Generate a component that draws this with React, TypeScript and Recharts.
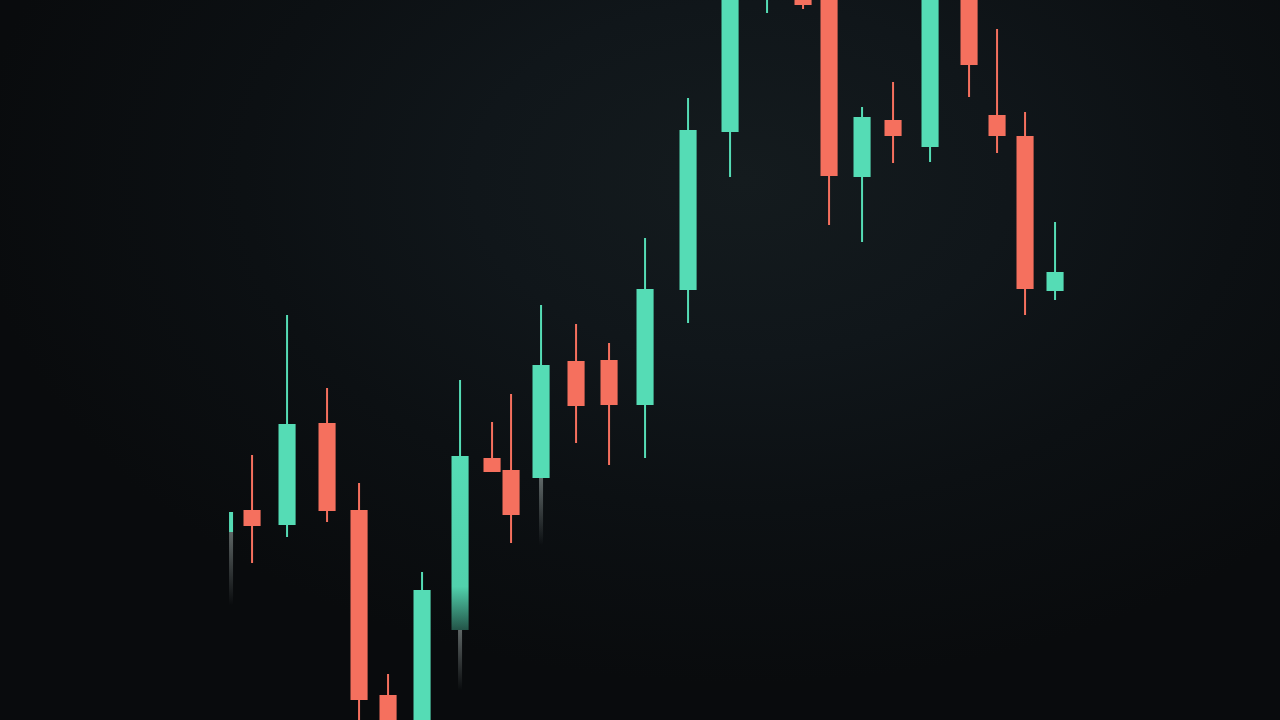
import React from "react";
import { ComposedChart, Bar, XAxis, YAxis } from "recharts";

// time position of each candle (read along the horizontal axis)
const times = [231, 252, 287, 327, 359, 388, 422, 460, 492, 511, 541, 576, 609, 645, 688, 730, 767, 803, 829, 862, 893, 930, 969, 997, 1025, 1055];
const opens = [188, 210, 195, 297, 210, 25, -20, 90, 262, 250, 242, 359, 360, 315, 430, 588, 740, 740, 740, 543, 600, 573, 740, 605, 584, 429];
const closes = [188, 194, 296, 209, 20, -20, 130, 264, 248, 205, 355, 314, 315, 431, 590, 740, 760, 715, 544, 603, 584, 740, 655, 584, 431, 448];
const highs = [208, 265, 405, 332, 237, 46, 148, 340, 298, 326, 415, 396, 377, 482, 622, 760, 770, 760, 760, 613, 638, 760, 760, 691, 608, 498];
const lows = [115, 157, 183, 198, -20, -30, -30, 30, 248, 177, 175, 277, 255, 262, 397, 543, 707, 711, 495, 478, 557, 558, 623, 567, 405, 420];
// 0 = sharp, 1 = blurred lower wick, 2 = blurred body and lower wick
const blurred = [1, 0, 0, 0, 0, 0, 0, 2, 0, 0, 1, 0, 0, 0, 0, 0, 0, 0, 0, 0, 0, 0, 0, 0, 0, 0];

const data = times.map((t, i) => ({
  t,
  open: opens[i],
  close: closes[i],
  high: highs[i],
  low: lows[i],
  blur: blurred[i],
}));

const TEAL = "#55dcb5";
const RED = "#f5705e";

const Candle = (props: any) => {
  const { x, y, width, height, payload } = props;
  if (x == null || y == null) return null;
  const top = Math.min(y, y + height);
  const bottom = Math.max(y, y + height);
  const range = payload.high - payload.low;
  const k = range > 0 ? (bottom - top) / range : 0;
  const yOf = (v: number) => top + (payload.high - v) * k;
  const up = payload.close >= payload.open;
  const color = up ? TEAL : RED;
  const bTop = yOf(Math.max(payload.open, payload.close));
  const bBot = yOf(Math.min(payload.open, payload.close));
  const cx = x + width / 2;
  const fill = payload.blur === 2 ? (up ? "url(#fadeTeal)" : "url(#fadeRed)") : color;
  const hasBody = payload.open !== payload.close;
  return (
    <g>
      <rect x={cx - (hasBody ? 1 : 2)} y={top} width={hasBody ? 2 : 4} height={Math.max(0, bTop - top)} fill={color} />
      <rect
        x={cx - (payload.blur ? 2 : 1)}
        y={bBot}
        width={payload.blur ? 4 : 2}
        height={Math.max(0, bottom - bBot)}
        fill={payload.blur ? "url(#fadeWick)" : color}
      />
      {hasBody && (
        <rect x={x} y={bTop} width={width} height={Math.max(2, bBot - bTop)} fill={fill} />
      )}
    </g>
  );
};

export default function App() {
  return (
    <div
      style={{
        position: "fixed",
        left: 0,
        top: 0,
        width: 1280,
        height: 720,
        background:
          "radial-gradient(ellipse 60% 70% at 58% 25%, #141b1e 0%, #10161a 35%, #0c1013 65%, #090b0d 100%)",
        overflow: "hidden",
      }}
    >
      <ComposedChart width={1280} height={720} data={data} margin={{ top: 0, right: 0, bottom: 0, left: 0 }}>
        <defs>
          <linearGradient id="fadeTeal" x1="0" y1="0" x2="0" y2="1">
            <stop offset="0%" stopColor={TEAL} stopOpacity={1} />
            <stop offset="75%" stopColor={TEAL} stopOpacity={0.95} />
            <stop offset="100%" stopColor={TEAL} stopOpacity={0.35} />
          </linearGradient>
          <linearGradient id="fadeRed" x1="0" y1="0" x2="0" y2="1">
            <stop offset="0%" stopColor={RED} stopOpacity={1} />
            <stop offset="75%" stopColor={RED} stopOpacity={0.95} />
            <stop offset="100%" stopColor={RED} stopOpacity={0.35} />
          </linearGradient>
          <linearGradient id="fadeWick" x1="0" y1="0" x2="0" y2="1">
            <stop offset="0%" stopColor="#a4b0ae" stopOpacity={0.55} />
            <stop offset="100%" stopColor="#a4b0ae" stopOpacity={0} />
          </linearGradient>
        </defs>
        <XAxis dataKey="t" type="number" domain={[0, 1280]} hide allowDataOverflow />
        <YAxis type="number" domain={[0, 720]} hide allowDataOverflow />
        <Bar
          dataKey={(d: any) => [d.low, d.high]}
          barSize={19}
          shape={<Candle />}
          isAnimationActive={false}
        />
      </ComposedChart>
    </div>
  );
}
